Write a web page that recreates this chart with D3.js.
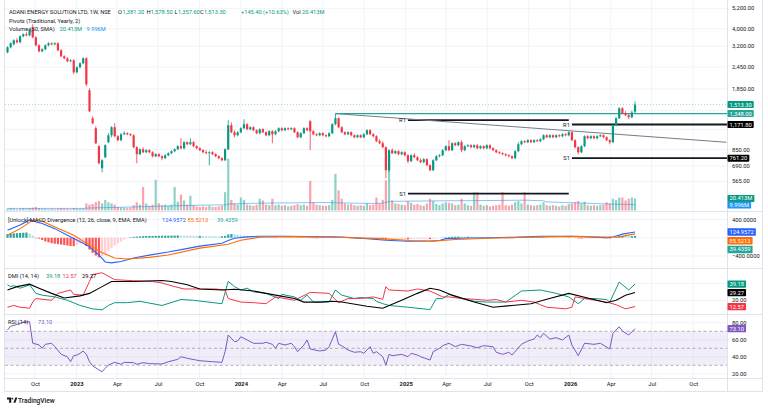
<!DOCTYPE html>
<html><head><meta charset="utf-8">
<script src="https://cdn.jsdelivr.net/npm/d3@7"></script>
<style>
html,body{margin:0;padding:0;background:#fff;}
svg{display:block;font-family:Roboto,"Liberation Sans",sans-serif;}
</style></head><body>
<svg id="c" width="768" height="409"></svg>
<script>
// ---------------- DATA ----------------
const symbolName = "ADANI ENERGY SOLUTION LTD, 1W, NSE";
const firstWeek = "2022-08-01";
// weekly candles [open, high, low, close]
const ohlc = [
[2958,3194,2920,3154],[3154,3363,3114,3320],[3277,3494,3236,3450],[3450,3540,3320,3363],[3363,3678,3320,3632],
[3632,3774,3585,3726],[3726,3823,3632,3678],[3678,4024,3632,3973],[4024,4236,3540,3585],[3585,3632,3194,3236],
[3236,3277,2958,2996],[2996,3114,2958,3074],[3074,3277,3035,3236],[3236,3363,3194,3320],[3320,3363,3236,3277],
[3277,3363,3236,3320],[3320,3363,3000,3035],[3035,3074,2775,2810],[2810,2847,2704,2739],[2739,2775,2602,2636],
[2636,2704,2602,2670],[2670,2704,2231,2289],[2289,2472,2260,2441],[2441,2602,2410,2569],[2569,2775,2537,2739],
[2739,2770,1913,1963],[1818,1865,1371,1389],[1270,1300,1176,1191],[1117,1146,910,922],[887,898,704,713],
[669,751,636,741],[770,910,761,898],[934,1048,922,1021],[1021,1146,995,1131],[1131,1191,995,1008],
[1008,1021,946,958],[958,1048,946,1034],[1034,1075,1021,1048],[1048,1061,1021,1034],[1034,1048,1008,1021],
[1021,1034,864,876],[876,887,713,801],[801,864,790,853],[853,876,811,821],[821,853,811,843],
[843,853,811,821],[821,832,770,780],[780,811,770,801],[801,811,770,780],[780,790,741,761],
[761,801,751,790],[790,821,780,811],[811,843,801,832],[832,864,821,853],[853,898,843,887],
[887,983,853,864],[864,946,853,934],[934,946,898,910],[910,983,898,934],[934,946,876,887],
[887,898,853,864],[864,876,832,843],[843,853,811,821],[821,843,801,811],[811,832,695,821],
[821,832,790,801],[801,811,770,780],[780,790,751,761],[761,770,732,741],[741,864,732,853],
[853,1238,843,1161],[1161,1206,1048,1061],[1061,1089,995,1021],[1021,1075,1008,1061],[1061,1131,1048,1117],
[1117,1254,1103,1176],[1176,1191,1089,1103],[1103,1146,1089,1131],[1131,1146,1075,1089],[1089,1103,1034,1048],
[1048,1117,1034,1103],[1103,1117,1048,1061],[1061,1075,1008,1021],[1021,1089,1008,1075],[1075,1089,922,1034],
[1034,1089,1021,1075],[1075,1131,1061,1117],[1117,1131,1075,1089],[1089,1131,1075,1117],[1117,1131,1089,1103],
[1103,1131,1089,1117],[1117,1131,1048,1061],[1061,1075,983,995],[995,1061,983,1048],[1048,1131,1034,1117],
[1117,1131,1075,1089],[1222,1238,843,1075],[1075,1089,1021,1034],[1034,1048,1008,1021],[1021,1061,1008,1048],
[1048,1061,1008,1021],[1021,1034,995,1008],[1008,1061,995,1048],[1048,1191,1034,1176],[1176,1348,1161,1270],
[1270,1286,1117,1131],[1131,1146,1048,1061],[1061,1075,1021,1034],[1034,1075,1021,1061],[1061,1075,1008,1021],
[1021,1034,983,995],[995,1034,983,1021],[1021,1034,983,995],[995,1048,983,1034],[1034,1103,1021,1089],
[1089,1103,1021,1034],[1034,1048,995,1008],[1008,1021,934,946],[946,970,910,922],[922,946,864,876],
[876,887,589,652],[652,853,636,843],[843,864,801,811],[811,843,801,832],[832,843,790,801],
[801,832,790,821],[821,832,780,790],[790,801,713,732],[732,801,723,790],[790,811,761,770],
[770,780,732,741],[741,761,713,723],[723,761,713,751],[751,761,687,695],[695,704,644,652],
[652,751,644,741],[741,790,732,780],[780,801,770,790],[790,853,780,843],[843,898,832,887],
[887,958,832,843],[843,934,832,922],[922,934,887,898],[898,946,887,934],[934,958,821,843],
[843,898,832,887],[887,910,876,898],[898,910,864,876],[876,910,864,898],[898,910,853,864],
[864,898,853,887],[887,898,853,864],[864,910,853,898],[898,910,853,864],[864,876,832,843],
[843,853,811,821],[821,832,801,811],[811,821,790,801],[801,811,780,790],[790,801,770,780],
[780,790,751,761],[761,843,751,832],[832,934,821,910],[910,958,898,946],[946,958,922,934],
[934,970,922,958],[958,970,922,934],[934,970,922,958],[958,970,934,946],[946,983,934,970],
[970,1034,958,1021],[1021,1034,983,995],[995,1034,983,1021],[1021,1034,983,995],[995,1034,983,1021],
[1021,1034,995,1008],[1008,1048,995,1034],[1034,1048,1008,1021],[1021,1075,1008,1061],[1061,1075,946,958],
[958,970,864,876],[876,887,801,821],[821,898,811,887],[887,1021,876,1008],[1008,1021,970,983],
[983,1021,970,1008],[1008,1021,970,983],[983,1021,970,1008],[1008,1034,995,1021],[1021,1034,983,995],
[995,1008,946,958],[958,970,910,934],[934,1176,922,1161],[1161,1286,1146,1270],[1270,1462,1254,1443],
[1443,1462,1337,1354],[1354,1389,1303,1320],[1320,1337,1254,1286],[1286,1400,1270,1367.9],[1381.2,1578.5,1357.6,1513.3]
];
// weekly volume, millions
const volume = [
3,4,3,2,3,4,3,4,5,6,4,3,3,2,3,2,3,4,3,3,2,4,3,3,3,
12,10,11,14,16,12,18,14,12,10,6,5,5,4,5,9,14,10,40,12,8,10,52,12,9,
10,8,10,40,15,27,17,10,25,9,7,6,7,6,8,6,6,7,8,31,88,18,12,10,22,
18,10,9,8,10,20,17,10,9,20,9,10,8,9,7,8,9,11,9,10,8,50,14,10,9,
8,8,9,18,62,34,20,12,10,11,9,8,9,8,12,9,10,22,12,18,51,100,17,12,11,
10,9,16,13,10,11,9,8,12,20,16,11,9,12,14,13,12,9,10,20,12,9,8,31,31,
10,8,9,7,8,9,10,31,9,8,10,14,16,12,31,10,9,8,9,10,14,9,8,9,8,
7,9,8,11,12,14,16,12,15,9,8,9,8,9,10,14,12,20,18,22,22,17,20,22,20.413
];
// volume SMA(50) read at bar index: [bar, value M]
const volSMA = [[0,3.5],[24,3.5],[26,4.2],[40,6],[50,7.5],[60,9],[69,9.5],[70,11],[80,12.5],[100,13.5],[115,12],[119,12.5],[120,13.5],[121,15.5],[140,16.5],[155,17],[164,17.5],[170,16.5],[171,14.5],[180,13],[190,11],[199,9.996]];
// MACD lines [bar, value]
const macdLine = [[0,162],[4,280],[7,390],[8,370],[11,314],[15,200],[19,54],[24,-119],[26,-200],[29,-378],[31,-530],[33,-551],[36,-520],[40,-443],[45,-380],[51,-314],[56,-250],[61,-184],[68,-119],[70,-60],[72,-11],[76,20],[80,32],[88,32],[95,25],[102,20],[106,15],[114,-20],[120,-55],[127,-76],[134,-70],[137,-60],[139,-20],[146,-5],[153,0],[160,10],[169,32],[179,32],[184,15],[190,0],[192,18],[195,80],[199,124.9572]];
const signalLine = [[0,54],[4,200],[8,380],[10,395],[14,270],[21,54],[26,-162],[30,-330],[34,-443],[38,-465],[45,-430],[51,-378],[61,-227],[70,-141],[74,-54],[80,11],[90,25],[105,10],[118,-20],[128,-60],[135,-75],[142,-40],[155,-5],[170,20],[180,30],[190,15],[194,20],[199,85.5213]];
const macdHist = [
80,90,95,100,105,110,115,90,50,-10,
-20,-50,-80,-100,-120,-130,-140,-150,-160,-170,-180,-185,
-160,-130,-110,
-180,-260,-330,-390,-430,
-400,-350,-290,-230,-170,-120,-80,-40,-10,
10,20,25,30,35,38,40,40,42,42,44,45,46,47,48,50,48,46,45,44,42,40,40,38,36,35,34,33,32,32,
40,70,80,75,65,55,48,40,32,25,20,15,
10,5,2,-5,-8,-6,-3,2,4,5,3,-4,-6,-3,0,-8,-10,-12,-10,-8,-6,-2,6,15,10,4,-3,-8,-12,-15,
-16,-18,-18,-17,-18,-20,-24,-28,-34,-45,-40,-38,-35,-33,-32,-30,-32,-30,-28,-28,-28,-25,-25,-28,-20,-12,-5,5,
12,18,22,24,26,24,22,22,20,18,16,14,12,10,8,
5,2,-2,-5,-8,-10,-14,-10,-4,4,8,10,12,
14,15,16,18,17,16,15,14,12,11,10,10,
5,-5,-15,-18,-15,-15,-14,-13,-12,-11,-12,-14,-16,
0,15,35,40,38,34,35,39.4359
];
// DMI [bar, value]
const plusDI = [[0,38.3],[1,36.2],[2,37.4],[4,34.3],[7,38.3],[9,28.2],[11,26.1],[15,24],[19,20],[23,13.9],[27,9.9],[30,8.7],[32,13.9],[34,17.2],[38,17.2],[42,18.8],[49,13.9],[55,20.9],[59,20],[68,16],[70,42.3],[72,36.2],[74,32.2],[76,34.3],[78,30.1],[82,28.2],[86,22.1],[87,27],[91,24],[93,20],[95,26.1],[97,17.9],[102,17.9],[104,32.2],[106,26.1],[110,22.1],[112,23.3],[116,22.1],[117,18.8],[119,16],[121,13.9],[127,11.8],[134,9],[136,22.1],[138,22.1],[140,27],[144,22.1],[148,18.8],[152,17.9],[158,17.9],[163,31],[169,32.2],[174,28.2],[178,24],[181,16],[183,22.1],[186,22.1],[190,20.9],[191,17.9],[194,41.6],[197,32.2],[199,39.18]];
const minusDI = [[0,11.8],[2,13.9],[4,11.8],[7,10.6],[8,17.9],[9,22.1],[14,20],[16,28.2],[20,32.2],[21,27],[24,26.1],[26,42.3],[27,50.5],[30,52.6],[34,44.4],[40,43.2],[46,42.3],[49,40.4],[53,36.2],[56,33.4],[61,33.4],[66,33.4],[69,32.2],[70,22.1],[74,17.9],[78,17.2],[82,16],[85,24],[88,22.1],[91,20],[96,29.4],[102,28.2],[105,17.2],[108,22.1],[112,22.1],[116,24],[119,21.2],[120,36.2],[121,32.2],[127,31],[130,33.4],[134,31],[138,24],[140,24],[144,22.1],[148,21.2],[152,20],[155,20.9],[158,17.9],[163,20],[167,17.9],[169,14.8],[171,11.8],[177,9.9],[179,11.8],[180,24],[183,22.1],[190,17.9],[193,14.8],[196,9.9],[199,12.57]];
const adx = [[0,32.2],[3,36.2],[7,39.1],[10,34.3],[14,28.2],[18,22.8],[23,25.2],[26,28.2],[30,36.2],[33,42.3],[40,42.3],[49,43.5],[52,42.3],[57,38.3],[61,33.4],[68,32.2],[72,33],[78,31],[85,26.1],[91,22.1],[94,17.9],[99,17.9],[103,18.8],[106,17.9],[114,13],[119,10.6],[125,20],[130,28.2],[134,34.3],[137,32.2],[141,26.1],[148,17.9],[154,11.8],[160,13.9],[166,16],[171,21.2],[178,28.2],[184,22.8],[190,17.2],[193,20],[196,26.1],[199,29.27]];
// RSI(14) [bar, value]
const rsi = [[0,71.5],[1,76],[3,78],[5,80.6],[7,81.3],[8,56],[10,54],[11,50],[12,54.7],[14,55.9],[15,52],[17,43],[19,40],[20,34.2],[21,41.3],[22,42],[23,44],[24,46.8],[25,43],[26,34.2],[27,29.5],[29,24.5],[30,22.5],[31,26.5],[32,30.4],[34,33.5],[36,31.2],[37,33.5],[40,33.1],[41,31.2],[43,33.1],[45,32],[49,31.5],[51,34.2],[54,37],[55,40.1],[57,38.2],[61,35.4],[65,34.2],[68,33.5],[69,46],[70,65.6],[72,57.8],[73,58.6],[74,63.6],[76,59.8],[78,55.9],[81,55.9],[82,57.1],[84,54.7],[85,50],[86,55.9],[88,53.9],[90,55.9],[91,51.9],[92,46],[94,53.9],[95,59.8],[96,49.2],[99,46.8],[101,48],[102,51.9],[104,69.5],[105,54.7],[106,53],[108,48],[110,45.3],[112,46],[113,44.1],[115,51.9],[116,44.1],[117,46],[119,40.1],[120,30.4],[121,42.9],[122,41.3],[125,42.9],[127,40.1],[128,44.1],[130,42.1],[131,40.1],[134,36.2],[135,46],[137,50],[138,53.1],[140,55.9],[142,51.9],[144,54.7],[147,52.7],[149,50.7],[151,53.1],[154,51.9],[155,45.3],[157,42.9],[159,45.3],[160,42.1],[163,54.7],[165,58.6],[167,60.9],[168,65.6],[169,62.5],[170,67.6],[172,60.9],[174,62.5],[176,59.8],[178,65.6],[179,53.9],[181,41.3],[183,55.9],[186,54.7],[188,55.9],[191,49.2],[192,67.6],[194,75.4],[195,70.4],[197,65.6],[199,73.1]];
// yearly pivots (Traditional)
const pivots = [
  {label:"R1", value:1238, from:"2025-01-06", to:"2025-12-29"},
  {label:"S1", value:483.4, from:"2025-01-06", to:"2025-12-29"},
  {label:"R1", value:1171.8, from:"2026-01-05", to:null},
  {label:"S1", value:761.2, from:"2026-01-05", to:null}
];
const hRay = {bar:104, price:1348.00};
const trendLine = [[104,1348],[228,933]];
const priceGrid = [5200,4000,3200,2450,1850,1400,1100,850,690,565];
const priceLabels = [5200,4000,3200,2450,1850,850,690,565];
const macdTicks = [400,0,-400];
const macdLabels = [400,-400];
const dmiGrid = [20,40];
const dmiLabels = [20];
const rsiGrid = [80,60,40,20];
const rsiBands = [70,50,30];

// ---------------- LAYOUT ----------------
const L = 5, R = 727;
const svg = d3.select("#c");
const start = new Date(firstWeek + "T00:00:00");
const dates = ohlc.map((d,i)=>d3.timeDay.offset(start, 7*i));
const x = d3.scaleTime().domain([dates[0], dates[dates.length-1]]).range([7.5, 635]);
const xb = i => x(d3.timeDay.offset(start, 7*i));
const xFull = x.copy().domain([x.invert(L), x.invert(R)]).range([L,R]);
const yP = d3.scaleLog().domain([5200,565]).range([8.3,181.4]);
const yV = d3.scaleLinear().domain([0,100]).range([210.5,151.5]);
const yM = d3.scaleLinear().domain([400,-400]).range([219.5,256]);
const yD = d3.scaleLinear().domain([20,40]).range([300.3,283.4]);
const yR = d3.scaleLinear().domain([30,70]).range([365.3,331.3]);

const UP="#089981", DN="#F23645", TXT="#131722", GRID="#f0f3fa", SEP="#e0e3eb";

svg.append("defs").append("clipPath").attr("id","pc").append("rect").attr("x",L).attr("y",0).attr("width",R-L).attr("height",380);

// grid
const g0 = svg.append("g").attr("clip-path","url(#pc)");
const tTicks = xFull.ticks(d3.timeMonth.every(3));
g0.selectAll(".vg").data(tTicks).join("line").attr("x1",d=>xFull(d)).attr("x2",d=>xFull(d)).attr("y1",0).attr("y2",378).attr("stroke",GRID);
g0.selectAll(".pg").data(priceGrid).join("line").attr("x1",L).attr("x2",R).attr("y1",d=>yP(d)).attr("y2",d=>yP(d)).attr("stroke",GRID);
g0.selectAll(".mg").data(macdTicks).join("line").attr("x1",L).attr("x2",R).attr("y1",d=>yM(d)).attr("y2",d=>yM(d)).attr("stroke",GRID);
g0.selectAll(".dg").data(dmiGrid).join("line").attr("x1",L).attr("x2",R).attr("y1",d=>yD(d)).attr("y2",d=>yD(d)).attr("stroke",GRID);
g0.selectAll(".rg").data(rsiGrid).join("line").attr("x1",L).attr("x2",R).attr("y1",d=>yR(d)).attr("y2",d=>yR(d)).attr("stroke",GRID);

// separators / frame
const seps = [211.5,268.5,314.5,378.5,391.5];
svg.selectAll(".sep").data(seps).join("line").attr("x1",4.5).attr("x2",762.5).attr("y1",d=>d).attr("y2",d=>d).attr("stroke",SEP);
[4.5,R+0.5,762.5].forEach(v=>svg.append("line").attr("x1",v).attr("x2",v).attr("y1",0).attr("y2",391.5).attr("stroke",SEP));

const g = svg.append("g").attr("clip-path","url(#pc)");
const isUp = i => ohlc[i][3] >= ohlc[i][0];

// volume
g.selectAll(".vol").data(volume).join("rect")
 .attr("x",(d,i)=>xb(i)-1.1).attr("width",2.2)
 .attr("y",d=>yV(d)).attr("height",d=>yV(0)-yV(d))
 .attr("fill",(d,i)=>isUp(i)?"rgba(8,153,129,0.45)":"rgba(242,54,69,0.45)");
const lineGen = (ys)=>d3.line().x(d=>xb(d[0])).y(d=>ys(d[1]));
g.append("path").attr("d",lineGen(yV)(volSMA)).attr("fill","none").attr("stroke","#2196F3").attr("stroke-opacity",0.55).attr("stroke-width",1);

// last price dotted line
const last = ohlc[ohlc.length-1];
g.append("line").attr("x1",L).attr("x2",R).attr("y1",yP(last[3])).attr("y2",yP(last[3])).attr("stroke",UP).attr("stroke-opacity",0.35).attr("stroke-dasharray","1,2");

// pivots
pivots.forEach(p=>{
  const x1 = x(new Date(p.from+"T00:00:00")), x2 = p.to? x(new Date(p.to+"T00:00:00")) : R;
  g.append("line").attr("x1",x1).attr("x2",x2).attr("y1",yP(p.value)).attr("y2",yP(p.value)).attr("stroke","#131722").attr("stroke-width",1.8);
  svg.append("text").attr("x",x1-2).attr("y",yP(p.value)).attr("dy","0.35em").attr("text-anchor","end").attr("font-size",5.8).attr("fill",TXT).text(p.label);
});
// trend line & horizontal ray
g.append("line").attr("x1",xb(trendLine[0][0])).attr("y1",yP(trendLine[0][1])).attr("x2",xb(trendLine[1][0])).attr("y2",yP(trendLine[1][1])).attr("stroke","#787b86").attr("stroke-width",1);
g.append("line").attr("x1",xb(hRay.bar)).attr("x2",R).attr("y1",yP(hRay.price)).attr("y2",yP(hRay.price)).attr("stroke","#26a69a").attr("stroke-width",1.4);

// candles
const cg = g.append("g");
cg.selectAll(".wick").data(ohlc).join("line")
 .attr("x1",(d,i)=>xb(i)).attr("x2",(d,i)=>xb(i)).attr("y1",d=>yP(d[1])).attr("y2",d=>yP(d[2]))
 .attr("stroke",(d,i)=>isUp(i)?UP:DN).attr("stroke-width",0.8);
cg.selectAll(".body").data(ohlc).join("rect")
 .attr("x",(d,i)=>xb(i)-1.1).attr("width",2.2)
 .attr("y",d=>yP(Math.max(d[0],d[3]))).attr("height",d=>Math.max(0.8,Math.abs(yP(d[0])-yP(d[3]))))
 .attr("fill",(d,i)=>isUp(i)?UP:DN);

// MACD
g.selectAll(".hist").data(macdHist).join("rect")
 .attr("x",(d,i)=>xb(i)-1.1).attr("width",2.2)
 .attr("y",d=>Math.min(yM(d),yM(0))).attr("height",d=>Math.abs(yM(d)-yM(0)))
 .attr("fill",(d,i)=>{const p = i>0?macdHist[i-1]:d; return d>=0 ? (d>=p?"#26a69a":"#b2dfdb") : (d<p?"#ff5252":"#ffcdd2");});
g.append("path").attr("d",lineGen(yM)(macdLine)).attr("fill","none").attr("stroke","#2962ff").attr("stroke-width",1.1);
g.append("path").attr("d",lineGen(yM)(signalLine)).attr("fill","none").attr("stroke","#ff6d00").attr("stroke-width",1.1);

// DMI
g.append("path").attr("d",lineGen(yD)(plusDI)).attr("fill","none").attr("stroke","#089981").attr("stroke-width",1);
g.append("path").attr("d",lineGen(yD)(minusDI)).attr("fill","none").attr("stroke","#f23645").attr("stroke-width",1);
g.append("path").attr("d",lineGen(yD)(adx)).attr("fill","none").attr("stroke","#000").attr("stroke-width",1.1);

// RSI
g.append("rect").attr("x",L).attr("width",R-L).attr("y",yR(70)).attr("height",yR(30)-yR(70)).attr("fill","rgba(126,87,194,0.1)");
g.selectAll(".band").data(rsiBands).join("line").attr("x1",L).attr("x2",R).attr("y1",d=>yR(d)).attr("y2",d=>yR(d)).attr("stroke","#787b86").attr("stroke-opacity",0.7).attr("stroke-dasharray","3,2.5").attr("stroke-width",0.8);
g.append("path").attr("d",lineGen(yR)(rsi)).attr("fill","none").attr("stroke","#7e57c2").attr("stroke-width",1);

// ---------------- AXES ----------------
const FS = 5.8;
const f2 = d3.format(",.2f"), f4 = d3.format(".4f");
svg.selectAll(".pl").data(priceLabels).join("text").attr("x",732).attr("y",d=>yP(d)).attr("dy","0.35em").attr("font-size",FS).attr("fill",TXT).text(f2);
svg.selectAll(".ml").data(macdLabels).join("text").attr("x",732).attr("y",d=>yM(d)).attr("dy","0.35em").attr("font-size",FS).attr("fill",TXT).text(d=>(d<0?"\u2212":"")+f4(Math.abs(d)));
svg.selectAll(".dl").data(dmiLabels).join("text").attr("x",732).attr("y",d=>yD(d)).attr("dy","0.35em").attr("font-size",FS).attr("fill",TXT).text(f2);
svg.selectAll(".rl").data(rsiGrid).join("text").attr("x",732).attr("y",d=>yR(d)).attr("dy","0.35em").attr("font-size",FS).attr("fill",TXT).text(f2);

const xAxisG = svg.append("g").attr("transform","translate(0,383.5)");
const xAxis = d3.axisBottom(xFull).tickValues(tTicks).tickSize(0).tickPadding(0)
  .tickFormat(d=>d.getMonth()===0?d3.timeFormat("%Y")(d):d3.timeFormat("%b")(d));
xAxisG.call(xAxis);
xAxisG.select(".domain").remove();
xAxisG.selectAll("text").attr("font-size",FS).attr("fill",TXT).attr("font-family","Roboto,sans-serif").attr("dy","0.35em")
  .attr("font-weight",d=>d.getMonth()===0?"700":"400");

// value boxes with stacking
function boxes(items, gap){
  items.sort((a,b)=>a.y-b.y);
  for(let k=1;k<items.length;k++) if(items[k].y < items[k-1].y+gap) items[k].y = items[k-1].y+gap;
  items.forEach(it=>{
    const gg = svg.append("g");
    const t = gg.append("text").attr("x",729.5).attr("y",it.y).attr("dy","0.35em").attr("font-size",FS).attr("fill","#fff").text(it.text);
    const w = t.node().getComputedTextLength();
    gg.insert("rect","text").attr("x",727.5).attr("y",it.y-it.h/2).attr("width",w+4).attr("height",it.h).attr("fill",it.c).attr("rx",0.8);
  });
}
const lastVol = volume[volume.length-1], lastSMA = volSMA[volSMA.length-1][1];
boxes([{y:yP(last[3]),text:f2(last[3]),c:"#089981",h:7},{y:yP(hRay.price),text:f2(hRay.price),c:"#26a69a",h:7},
       {y:yP(pivots[2].value),text:f2(pivots[2].value),c:"#000",h:7},{y:yP(pivots[3].value),text:f2(pivots[3].value),c:"#000",h:7}],7.2);
boxes([{y:yV(lastVol),text:d3.format(".3f")(lastVol)+"M",c:"#089981",h:7},{y:yV(lastSMA),text:d3.format(".3f")(lastSMA)+"M",c:"#2196f3",h:7}],6.6);
const mL = macdLine[macdLine.length-1][1], sL = signalLine[signalLine.length-1][1], hL = macdHist[macdHist.length-1];
boxes([{y:yM(mL),text:f4(mL),c:"#2962ff",h:7.6},{y:yM(sL),text:f4(sL),c:"#ff6d00",h:7.6},{y:yM(hL),text:f4(hL),c:"#26a69a",h:7.6}],8.7);
const pD = plusDI[plusDI.length-1][1], mD = minusDI[minusDI.length-1][1], aD = adx[adx.length-1][1];
boxes([{y:yD(pD),text:f2(pD),c:"#089981",h:7.2},{y:yD(aD),text:f2(aD),c:"#000",h:7.2},{y:yD(mD),text:f2(mD),c:"#f23645",h:7.2}],8.6);
const rL = rsi[rsi.length-1][1];
boxes([{y:yR(rL),text:f2(rL),c:"#7e57c2",h:7.2}],8);

// ---------------- HEADERS ----------------
function hdr(y, parts){
  const t = svg.append("text").attr("y",y).attr("font-size",5.7).attr("fill",TXT);
  parts.forEach(p=>t.append("tspan").attr("x",p[0]).attr("fill",p[2]||TXT).text(p[1]));
}
const prevClose = ohlc[ohlc.length-2][3];
const chg = last[3]-prevClose;
hdr(13.6,[[9,symbolName],[118,"O"],[122.5,f2(last[0]),UP],[146.5,"H"],[150.8,f2(last[1]),UP],[174.5,"L"],[178,f2(last[2]),UP],[200,"C"],[204,f2(last[3]),UP],
  [241,(chg>=0?"+":"")+f2(chg)+" ("+(chg>=0?"+":"")+d3.format(".2f")(chg/prevClose*100)+"%)",UP],[292.5,"Vol"],[302,d3.format(".3f")(lastVol)+"M",UP]]);
hdr(22.5,[[9,"Pivots (Traditional, Yearly, 2)"]]);
hdr(31,[[9,"Volume (50, SMA)"],[59.5,d3.format(".3f")(lastVol)+"M","#089981"],[86.5,d3.format(".3f")(lastSMA)+"M","#2196f3"]]);
hdr(221.5,[[8,"[Unlock] MACD Divergence (12, 26, close, 9, EMA, EMA)"],[162,f4(mL),"#2962ff"],[187.5,f4(sL),"#ff6d00"],[217,f4(hL),"#26a69a"]]);
hdr(278.3,[[8,"DMI (14, 14)"],[46,f2(pD),"#089981"],[62.5,f2(mD),"#f23645"],[82,f2(aD),"#000"]]);
hdr(324.3,[[8,"RSI (14)"],[38,f2(rL),"#7e57c2"]]);

// TradingView logo
const lg = svg.append("g").attr("fill","#131722");
lg.append("path").attr("d","M7 397.6h4.2v5.2h-2v-3.2h-2.2z");
lg.append("circle").attr("cx",12.4).attr("cy",398.6).attr("r",0.95);
lg.append("path").attr("d","M13.4 402.8l2-5.2h2l-2 5.2z");
svg.append("text").attr("x",18).attr("y",402.6).attr("font-size",6.6).attr("font-weight",500).attr("fill","#131722").text("TradingView");
</script>
</body></html>
